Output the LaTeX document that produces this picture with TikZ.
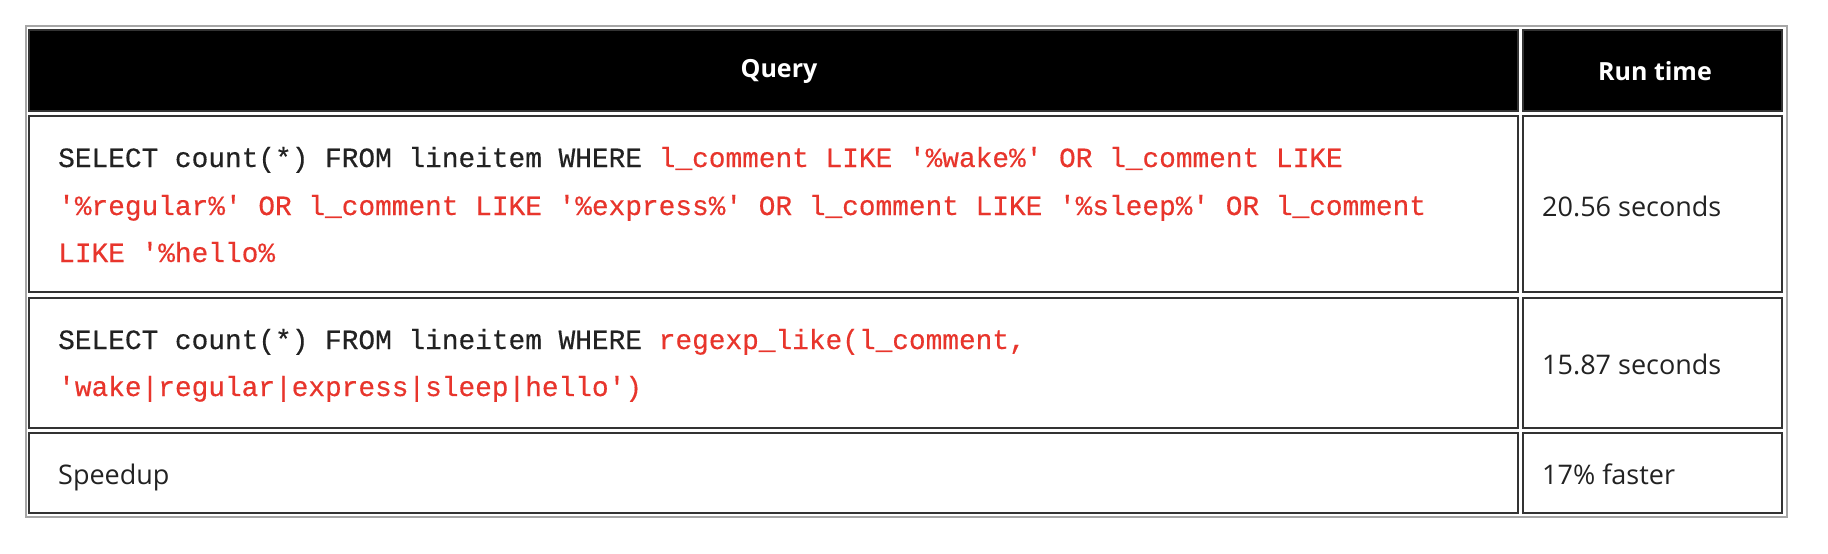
\documentclass[tikz,border=0pt]{standalone}
\usepackage{fontspec}
\setmainfont{Open Sans}
\newfontfamily\codefont[FakeBold=0.4]{Liberation Mono}
\definecolor{codered}{HTML}{E8352C}
\definecolor{txt}{HTML}{222222}
\begin{document}
\begin{tikzpicture}[x=1pt,y=-1pt,
  cellbox/.style={draw=black!80,line width=1.6pt},
  code/.style={anchor=base west,inner sep=0,font=\codefont\fontsize{27.8}{34}\selectfont,text=txt},
  plain/.style={anchor=base west,inner sep=0,font=\fontsize{27}{30}\selectfont,text=txt},
  head/.style={anchor=center,inner sep=0,font=\bfseries\fontsize{25}{30}\selectfont,text=white}]
\useasboundingbox (0,0) rectangle (1828,554);
\fill[white] (0,0) rectangle (1828,554);
\draw[black!35,line width=2pt] (26,26) rectangle (1787,517);
% header
\fill[black] (29,30) rectangle (1518,111);
\fill[black] (1523,30) rectangle (1782,111);
\draw[cellbox] (29,30) rectangle (1518,111);
\draw[cellbox] (1523,30) rectangle (1782,111);
\node[head] (hq) at (779,71) {Query};
\node[head] (hr) at (1655,71) {Run time};
% rows
\foreach \a/\b in {116/292,298/428,433/513}{
  \draw[cellbox] (29,\a) rectangle (1518,\b);
  \draw[cellbox] (1523,\a) rectangle (1782,\b);
}
\node[code] (r1a) at (58,167) {SELECT count(*) FROM lineitem WHERE \textcolor{codered}{l\_comment LIKE '\%wake\%' OR l\_comment LIKE}};
\node[code,text=codered] (r1b) at (58,215) {'\%regular\%' OR l\_comment LIKE '\%express\%' OR l\_comment LIKE '\%sleep\%' OR l\_comment};
\node[code,text=codered] (r1c) at (58,262) {LIKE '\%hello\%};
\node[plain] (t1) at (1542,216) {20.56 seconds};
\node[code] (r2a) at (58,349) {SELECT count(*) FROM lineitem WHERE \textcolor{codered}{regexp\_like(l\_comment,}};
\node[code,text=codered] (r2b) at (58,396) {'wake|regular|express|sleep|hello')};
\node[plain] (t2) at (1542,374) {15.87 seconds};
\node[plain] (sp) at (58,484) {Speedup};
\node[plain] (t3) at (1542,484) {17\% faster};
\end{tikzpicture}
\end{document}
